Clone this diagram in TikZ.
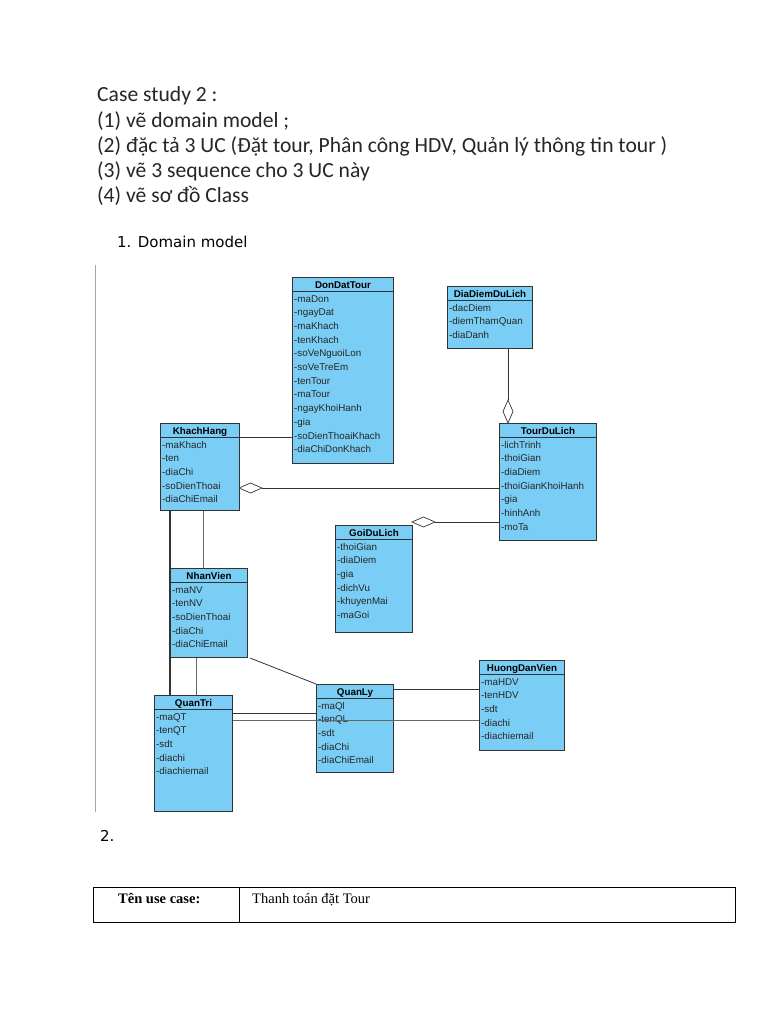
\documentclass[tikz,border=0pt]{standalone}
\usepackage{fontspec}
\setmainfont{Liberation Sans}
\newfontfamily\calib{Carlito}
\newfontfamily\dejav{DejaVu Sans}
\newfontfamily\tms{Liberation Serif}
\definecolor{umlfill}{RGB}{122,206,245}
\tikzset{
  umlbox/.style={draw=black!80, line width=1pt, fill=umlfill, anchor=north west, inner sep=0},
  ttl/.style={font=\fontsize{9.8}{11}\selectfont\bfseries, anchor=base, inner sep=0},
  attr/.style={font=\fontsize{9.8}{11}\selectfont, anchor=base west, inner sep=0, text=black!85},
  conn/.style={draw=black!80, line width=0.8pt},
  agg/.style={draw=black!80, fill=white, line width=0.7pt},
  hdr/.style={font=\calib\fontsize{21.6}{23}\selectfont, anchor=west, inner sep=0, text=black!85}
}
\newcommand{\umlcls}[7]{%
  \node[umlbox, minimum width=#4pt, minimum height=#5pt] (#1) at (#2,#3) {};
  \draw[black!80, line width=0.8pt] ($(#1.north west)+(0,14)$) -- ($(#1.north east)+(0,14)$);
  \node[ttl] at ($(#1.north)+(0,11)$) {#6};
  \foreach \a [count=\i] in {#7} {\node[attr] at ($(#1.north west)+(2,14+11+13.7*\i-13.7)$) {\a};}
}
\usetikzlibrary{calc}
\begin{document}
\begin{tikzpicture}[x=1pt,y=-1pt]
\useasboundingbox (0,0) rectangle (768,1024);
\fill[white] (0,0) rectangle (768,1024);
\node[hdr] at (97,96) {Case study 2 :};
\node[hdr] at (97,121) {(1) vẽ domain model ;};
\node[hdr] at (97,146) {(2) đặc tả 3 UC (Đặt tour, Phân công HDV, Quản lý thông tin tour )};
\node[hdr] at (97,171) {(3) vẽ 3 sequence cho 3 UC này};
\node[hdr] at (97,196) {(4) vẽ sơ đồ Class};
\node[font=\dejav\fontsize{15}{17}\selectfont, anchor=west, inner sep=0] at (117,242) {1. Domain model};
\draw[black!35, line width=0.8pt] (95,265) -- (95,812);

\umlcls{ddt}{292}{277}{101}{186}{DonDatTour}{-maDon,-ngayDat,-maKhach,-tenKhach,-soVeNguoiLon,-soVeTreEm,-tenTour,-maTour,-ngayKhoiHanh,-gia,-soDienThoaiKhach,-diaChiDonKhach}
\umlcls{ddl}{447}{286}{85}{62}{DiaDiemDuLich}{-dacDiem,-diemThamQuan,-diaDanh}
\umlcls{kh}{160}{423}{79}{87}{KhachHang}{-maKhach,-ten,-diaChi,-soDienThoai,-diaChiEmail}
\umlcls{tdl}{499}{423}{97}{117}{TourDuLich}{-lichTrinh,-thoiGian,-diaDiem,-thoiGianKhoiHanh,-gia,-hinhAnh,-moTa}
\umlcls{gdl}{335}{525}{77}{107}{GoiDuLich}{-thoiGian,-diaDiem,-gia,-dichVu,-khuyenMai,-maGoi}
\umlcls{nv}{170}{568}{77}{89}{NhanVien}{-maNV,-tenNV,-soDienThoai,-diaChi,-diaChiEmail}
\umlcls{qt}{154}{695}{78}{116}{QuanTri}{-maQT,-tenQT,-sdt,-diachi,-diachiemail}
\umlcls{ql}{316}{684}{77}{88}{QuanLy}{-maQl,-tenQL,-sdt,-diaChi,-diaChiEmail}
\umlcls{hdv}{479}{660}{85}{90}{HuongDanVien}{-maHDV,-tenHDV,-sdt,-diachi,-diachiemail}

% connectors
\draw[conn] (kh.east |- 0,437) -- (ddt.west |- 0,437);
\draw[conn] (ddl.south -| 508,0) -- (508,400);
\draw[agg] (508,400) -- (503,411.5) -- (508,423) -- (513,411.5) -- cycle;
\draw[conn] (tdl.west |- 0,488) -- (262,488);
\draw[agg] (239,488) -- (250.5,483) -- (262,488) -- (250.5,493) -- cycle;
\draw[conn] (tdl.west |- 0,522) -- (435,522);
\draw[agg] (412,522) -- (423.5,517) -- (435,522) -- (423.5,527) -- cycle;
\draw[conn, line width=1.2pt] (kh.south -| 170,0) -- (qt.north -| 170,0);
\draw[conn, black!60] (kh.south -| 203,0) -- (nv.north -| 203,0);
\draw[conn, black!60] (nv.south -| 196,0) -- (qt.north -| 196,0);
\draw[conn] (nv.south east) ++(2,0) -- (ql.north west);
\draw[conn] (qt.east |- 0,713) -- (ql.west |- 0,713);
\draw[conn, black!60] (qt.east |- 0,720) -- (hdv.west |- 0,720);
\draw[conn] (ql.east |- 0,689) -- (hdv.west |- 0,689);

\node[font=\dejav\fontsize{15}{17}\selectfont, anchor=west, inner sep=0] at (100,836) {2.};
\node[draw, line width=1.2pt, anchor=north west, minimum width=642pt, minimum height=35pt, inner sep=0] (tbl) at (93,887) {};
\draw[line width=1pt] (239,887) -- (239,922);
\node[font=\tms\fontsize{14.5}{16}\selectfont\bfseries, anchor=base west, inner sep=0] at (118,903) {Tên use case:};
\node[font=\tms\fontsize{14.5}{16}\selectfont, anchor=base west, inner sep=0] at (252,903) {Thanh toán đặt Tour};
\end{tikzpicture}
\end{document}
